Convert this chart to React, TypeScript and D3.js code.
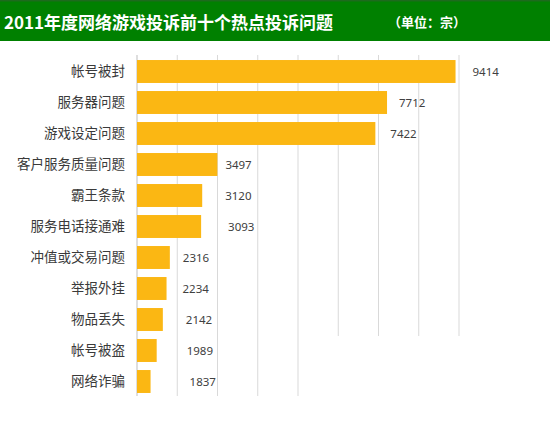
import React from "react";
import * as d3 from "d3";

const TITLE = "2011年度网络游戏投诉前十个热点投诉问题";
const UNIT = "（单位：宗）";
const categories = [
  "帐号被封",
  "服务器问题",
  "游戏设定问题",
  "客户服务质量问题",
  "霸王条款",
  "服务电话接通难",
  "冲值或交易问题",
  "举报外挂",
  "物品丢失",
  "帐号被盗",
  "网络诈骗",
];
const values = [9414, 7712, 7422, 3497, 3120, 3093, 2316, 2234, 2142, 1989, 1837];
const gridTicks = [1500, 2500, 3500, 4500, 5500, 6500, 7500, 8500, 9500];
// small label nudges (px) as hand-placed in the original
const labelNudge = [17, 12, 15, 8, 23, 27, 13, 16, 23, 30, 39];

const W = 550;
const H = 439;

export default function App() {
  const x = d3.scaleLinear().domain([1500, 9500]).range([137, 459]);
  const y = d3
    .scaleBand<string>()
    .domain(categories)
    .range([56, 397])
    .paddingInner(0.26)
    .paddingOuter(0.13);
  const bw = y.bandwidth();
  const shortBottom = (y("帐号被盗") as number) - 3;

  return (
    <svg
      width={W}
      height={H}
      style={{ position: "absolute", left: 0, top: 0, background: "#fff" }}
    >
      <rect x={0} y={0} width={W} height={41} fill="#008000" />
      <rect x={0} y={0} width={W} height={1.5} fill="#1d6b1d" />
      <text
        x={4}
        y={29}
        fill="#ffffff"
        fontFamily="'Noto Sans CJK SC', sans-serif"
        fontWeight={700}
        fontSize={17.5}
        textLength={329}
        lengthAdjust="spacingAndGlyphs"
      >
        {TITLE}
      </text>
      <text
        x={388}
        y={27}
        fill="#ffffff"
        fontFamily="'Noto Sans CJK SC', sans-serif"
        fontWeight={700}
        fontSize={13}
      >
        {UNIT}
      </text>

      {gridTicks.map((t) => (
        <line
          key={t}
          x1={x(t)}
          x2={x(t)}
          y1={55}
          y2={t <= 5500 ? 396 : shortBottom}
          stroke={t === 1500 ? "#bdbdbd" : "#d9d9d9"}
          strokeWidth={1}
        />
      ))}

      {categories.map((c, i) => (
        <rect
          key={c}
          x={x(1500)}
          y={y(c)}
          width={x(values[i]) - x(1500)}
          height={bw}
          fill="#fbb713"
        />
      ))}

      {categories.map((c) => (
        <text
          key={"l" + c}
          x={125}
          y={(y(c) as number) + bw / 2}
          dy="0.36em"
          textAnchor="end"
          fill="#3a3a3a"
          fontFamily="'Noto Sans CJK SC', sans-serif"
          fontSize={13.5}
        >
          {c}
        </text>
      ))}

      {categories.map((c, i) => (
        <text
          key={"v" + c}
          x={x(values[i]) + labelNudge[i]}
          y={(y(c) as number) + bw / 2}
          dy="0.36em"
          fill="#404040"
          fontFamily="'Noto Sans', sans-serif"
          fontSize={11.5}
        >
          {values[i]}
        </text>
      ))}
    </svg>
  );
}
